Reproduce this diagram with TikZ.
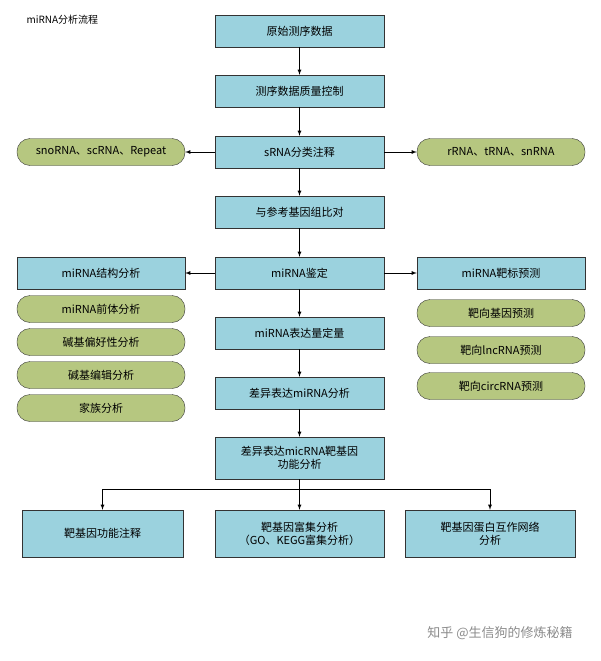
\documentclass[tikz,border=0pt]{standalone}
\usepackage{fontspec}
\setmainfont{Noto Sans CJK SC}
\begin{document}
\begin{tikzpicture}[x=1pt,y=-1pt,
 box/.style={draw=black!80,fill=boxc,minimum width=169pt,minimum height=32pt,inner sep=0pt,font=\fontsize{11}{13}\selectfont,align=center},
 ov/.style={draw=black!80,fill=ovc,rounded corners=13pt,minimum width=168pt,minimum height=27pt,inner sep=0pt,font=\fontsize{11}{13}\selectfont},
 ar/.style={-latex,thick}]
\definecolor{boxc}{RGB}{155,210,222}
\definecolor{ovc}{RGB}{182,199,128}
\path[use as bounding box,fill=white] (0,0) rectangle (600,661);
\node[anchor=west,font=\fontsize{10}{12}\selectfont] (t) at (23,20) {miRNA分析流程};
\node[box] (b1) at (299.5,31) {原始测序数据};
\node[box] (b2) at (299.5,91) {测序数据质量控制};
\node[box] (b3) at (299.5,152) {sRNA分类注释};
\node[box] (b4) at (299.5,212) {与参考基因组比对};
\node[box] (b5) at (299.5,273) {miRNA鉴定};
\node[box] (b6) at (299.5,333) {miRNA表达量定量};
\node[box] (b7) at (299.5,393) {差异表达miRNA分析};
\node[box,minimum height=42pt] (b8) at (299.5,458) {差异表达micRNA靶基因\\功能分析};
\node[ov] (l1) at (101,152) {snoRNA、scRNA、Repeat};
\node[ov] (r1) at (501,152) {rRNA、tRNA、snRNA};
\node[box,minimum width=168pt] (lb) at (101,273) {miRNA结构分析};
\node[box,minimum width=168pt] (rb) at (501,273) {miRNA靶标预测};
\node[ov] (l2) at (101,309) {miRNA前体分析};
\node[ov] (l3) at (101,342) {碱基偏好性分析};
\node[ov] (l4) at (101,375) {碱基编辑分析};
\node[ov] (l5) at (101,408) {家族分析};
\node[ov] (r2) at (501,313) {靶向基因预测};
\node[ov] (r3) at (501,350) {靶向lncRNA预测};
\node[ov] (r4) at (501,386) {靶向circRNA预测};
\node[box,minimum width=161pt,minimum height=47pt] (c1) at (102.5,533.5) {靶基因功能注释};
\node[box,minimum height=47pt] (c2) at (299.5,533.5) {靶基因富集分析\\（GO、KEGG富集分析）};
\node[box,minimum width=170pt,minimum height=47pt] (c3) at (490,533.5) {靶基因蛋白互作网络\\分析};
\coordinate (j) at (299.5,489);
\draw[ar] (b1)--(b2); \draw[ar] (b2)--(b3); \draw[ar] (b3)--(b4);
\draw[ar] (b4)--(b5); \draw[ar] (b5)--(b6); \draw[ar] (b6)--(b7); \draw[ar] (b7)--(b8);
\draw[ar] (b3)--(l1); \draw[ar] (b3)--(r1);
\draw[ar] (b5)--(lb); \draw[ar] (b5)--(rb);
\draw[thick] (b8)--(j);
\draw[ar] (j)-|(c1); \draw[ar] (j)--(c2); \draw[ar] (j)-|(c3);
\node[text=black!45,font=\fontsize{13}{15}\selectfont] (w) at (500,633) {知乎 @生信狗的修炼秘籍};
\end{tikzpicture}
\end{document}
